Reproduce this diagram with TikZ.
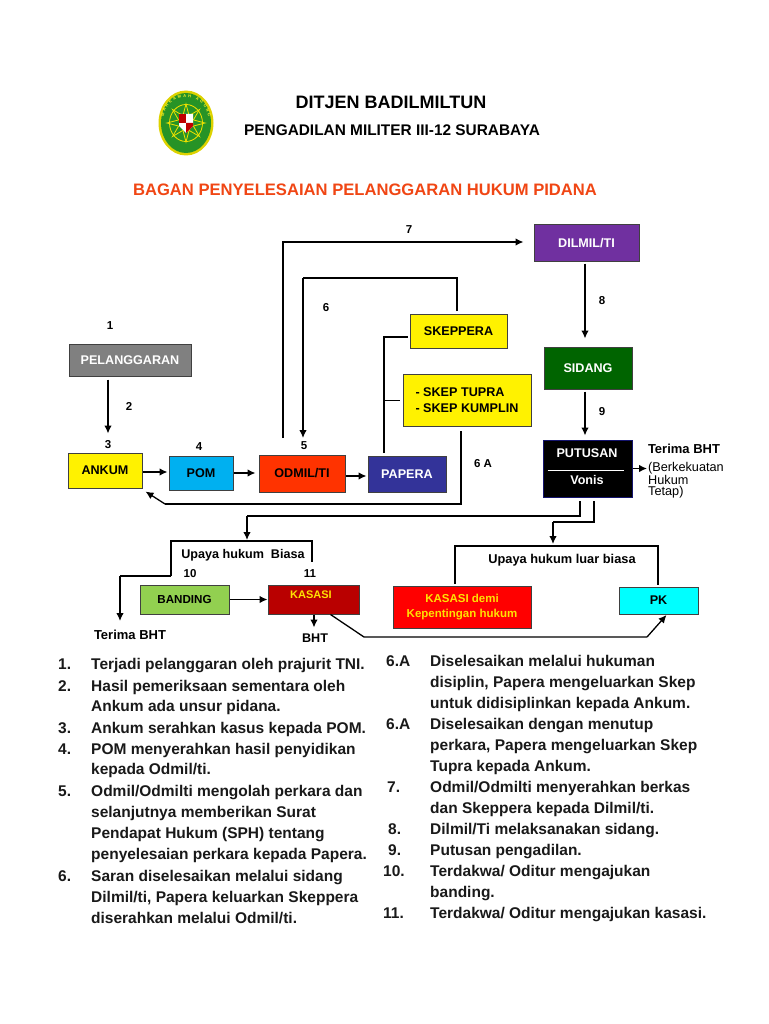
\documentclass[tikz,border=0pt]{standalone}
\usepackage{fontspec}
\setmainfont{Liberation Sans}
\usetikzlibrary{arrows.meta,decorations.text}
\tikzset{
  box/.style={draw=black!75, line width=1pt, font=\fontsize{12.6}{15}\selectfont\bfseries, align=center, inner sep=0pt},
  lbl/.style={font=\fontsize{11.5}{13}\selectfont\bfseries, inner sep=0pt},
  wire/.style={line width=1.3pt},
  arr/.style={line width=1.3pt, -{Latex[length=8pt,width=7.5pt]}},
  body/.style={font=\fontsize{15.5}{18}\selectfont\bfseries, anchor=base west, inner sep=0pt, text=black!90}
}
\begin{document}
\begin{tikzpicture}[x=1pt, y=-1pt]
  \useasboundingbox (0,0) rectangle (768,1024);
  % emblem
  \fill[yellow!70!olive] (186,123) ellipse (27.5 and 32.5);
  \fill[green!50!black!85] (186,123) ellipse (25 and 30);
  \draw[yellow!80!olive, line width=0.9pt] (186,123) ellipse (16.5 and 18.5);
  \fill[green!50!black!85] (186,123) ellipse (15.5 and 17.5);
  \foreach \a in {0,45,...,315}
    \draw[yellow!85!olive, line width=0.8pt] ({186+8*cos(\a+22.5)},{123+8*sin(\a+22.5)}) -- ({186+19*cos(\a)},{123+19*sin(\a)}) -- ({186+8*cos(\a-22.5)},{123+8*sin(\a-22.5)});
  \fill[white] (179,114) -- (193,114) -- (193,126) -- (186,133) -- (179,126) -- cycle;
  \fill[red!75!black] (179,114) -- (186,114) -- (186,123) -- (179,123) -- cycle;
  \fill[red!75!black] (186,123) -- (193,123) -- (193,126) -- (186,133) -- cycle;
  \path[postaction={decorate, decoration={text along path, text align=fit to path, text={|\fontsize{4}{5}\selectfont\bfseries\color{yellow!85}|MAHKAMAH AGUNG}}}]
    (164,117) .. controls (167,91) and (205,91) .. (208,117);
  % titles
  \node (dirjen) [font=\fontsize{18}{21}\selectfont\bfseries, inner sep=0pt] at (391,102) {DITJEN BADILMILTUN};
  \node (pengadilan) [font=\fontsize{15.4}{18}\selectfont\bfseries, inner sep=0pt] at (392,130) {PENGADILAN MILITER III-12 SURABAYA};
  \node (bagan) [font=\fontsize{16.6}{20}\selectfont\bfseries, text={rgb,255:red,240;green,70;blue,20}, inner sep=0pt] at (365,190) {BAGAN PENYELESAIAN PELANGGARAN HUKUM PIDANA};
  % boxes
  \node (pelanggaran) [box, fill=black!50, text=white, minimum width=122pt, minimum height=32pt] at (130,360) {PELANGGARAN};
  \node (ankum) [box, fill=yellow, minimum width=74pt, minimum height=35pt] at (105,470.5) {ANKUM};
  \node (pom) [box, fill={rgb,255:red,0;green,176;blue,240}, minimum width=64pt, minimum height=34pt] at (201,473) {POM};
  \node (odmil) [box, fill={rgb,255:red,255;green,51;blue,0}, minimum width=86pt, minimum height=37pt] at (302,473.5) {ODMIL/TI};
  \node (papera) [box, fill={rgb,255:red,51;green,51;blue,153}, text=white, minimum width=78pt, minimum height=36pt] at (407,474) {PAPERA};
  \node (dilmil) [box, fill={rgb,255:red,112;green,48;blue,160}, text=white, minimum width=105pt, minimum height=36pt] at (586.5,243) {DILMIL/TI};
  \node (skeppera) [box, fill=yellow, minimum width=97pt, minimum height=34pt] at (458.5,331) {SKEPPERA};
  \node (skep) [box, fill=yellow, minimum width=128pt, minimum height=52pt, align=left, font=\fontsize{12.6}{16}\selectfont\bfseries] at (467,400) {- SKEP TUPRA\\- SKEP KUMPLIN};
  \node (sidang) [box, fill={rgb,255:red,0;green,100;blue,0}, text=white, minimum width=88pt, minimum height=42pt] at (588,368) {SIDANG};
  \node (putusan) [box, draw={rgb,255:red,20;green,20;blue,110}, fill=black, minimum width=89pt, minimum height=57pt] at (587.5,468.5) {};
  \node (putusantop) [lbl, font=\fontsize{12.6}{15}\selectfont\bfseries, text=white] at (587,453) {PUTUSAN};
  \node (vonis) [lbl, font=\fontsize{12.6}{15}\selectfont\bfseries, text=white] at (587,480) {Vonis};
  \draw[white, line width=0.8pt] ([xshift=5pt,yshift=-1.5pt]putusan.west) -- ([xshift=-9pt,yshift=-1.5pt]putusan.east);
  \node (banding) [box, fill={rgb,255:red,146;green,208;blue,80}, minimum width=89pt, minimum height=29pt, font=\fontsize{11.6}{14}\selectfont\bfseries] at (184.5,599.5) {BANDING};
  \node (kasasi) [box, fill={rgb,255:red,185;green,0;blue,0}, minimum width=91pt, minimum height=29pt] at (313.5,599.5) {};
  \node (kasasitext) [lbl, font=\fontsize{11}{13}\selectfont\bfseries, text=yellow!85!orange] at (311,595) {KASASI};
  \node (kasasidemi) [box, fill=red, text=yellow!85!orange, minimum width=138pt, minimum height=42pt, font=\fontsize{11.5}{15}\selectfont\bfseries] at (462,607) {KASASI demi\\Kepentingan hukum};
  \node (pk) [box, fill={rgb,255:red,0;green,255;blue,255}, minimum width=79pt, minimum height=27pt] at (658.5,600.5) {PK};
  % free ends
  \coordinate (t7) at (283,438);
  \coordinate (t6) at (457,311);
  \coordinate (h6) at (457,278);
  \coordinate (e6) at (303,438);
  \coordinate (t6a) at (461,431);
  \coordinate (h6a) at (461,504);
  \coordinate (k6a) at (165,504);
  \coordinate (p1) at (580,501);
  \coordinate (p2) at (594,501);
  \coordinate (e1) at (247,540);
  \coordinate (e2) at (553,544);
  \coordinate (b1) at (171,576);
  \coordinate (b2) at (171,541);
  \coordinate (b3) at (312,541);
  \coordinate (b4) at (312,562);
  \coordinate (bht1) at (120,621);
  \coordinate (l1) at (455,584);
  \coordinate (l2) at (455,546);
  \coordinate (l3) at (658,546);
  \coordinate (l4) at (658,585);
  \coordinate (j) at (384,400);
  % connectors
  \draw[arr] ([xshift=-22pt,yshift=-3pt]pelanggaran.south) -- ([xshift=3pt,yshift=19pt]ankum.north);
  \draw[arr] (ankum.east |- 0,472) -- ([xshift=-1pt]pom.west |- 0,472);
  \draw[arr] (pom.east) -- ([xshift=-3pt]odmil.west |- pom.east);
  \draw[arr] (odmil.east |- 0,476) -- ([xshift=-1pt]papera.west |- 0,476);
  \draw[arr] (t7) |- ([xshift=-10pt,yshift=1pt]dilmil.west);
  \draw[wire] (t6) -- (h6) -- (303,278);
  \draw[arr] (303,278) -- (e6);
  \draw[wire] ([xshift=-2pt]skeppera.west |- 0,337) -| (384,453);
  \draw[line width=0.7pt] (j) -- ([xshift=-3pt]skep.west);
  \draw[wire] (t6a) -- (h6a) -- (k6a);
  \draw[arr] (k6a) -- ([xshift=3pt,yshift=-3pt]ankum.south east);
  \draw[arr] ([xshift=-1.5pt,yshift=-2pt]dilmil.south) -- ([xshift=-3pt,yshift=8pt]sidang.north);
  \draw[arr] ([xshift=-3pt,yshift=-2pt]sidang.south) -- ([xshift=-2.5pt,yshift=4pt]putusan.north);
  \draw[arr] (putusan.east) -- (647,468.5);
  \draw[wire] (p1) -- (580,516) -- (247,516);
  \draw[arr] (247,516) -- (e1);
  \draw[wire] (p2) -- (594,522) -- (553,522);
  \draw[arr] (553,522) -- (e2);
  \draw[wire] (b1) -- (b2) -- (b3) -- (b4);
  \draw[wire] (b1) -- (120,576);
  \draw[arr] (120,576) -- (bht1);
  \draw[wire] (l1) -- (l2) -- (l3) -- (l4);
  \draw[arr] (banding.east) -- (kasasi.west);
  \draw[arr] ([xshift=0.5pt]kasasi.south) -- ([xshift=0.5pt,yshift=-13pt]kasasi.south);
  \draw[wire] ([xshift=17pt]kasasi.south) -- (364,637) -- (647,637);
  \draw[arr] (647,637) -- ([xshift=8pt,yshift=-0.5pt]pk.south);
  % number labels
  \foreach \x/\y/\t in {110/326/1, 129/406/2, 108/445/3, 199/447/4, 304/446/5, 326/308/6, 409/230/7, 602/301/8, 602/412/9, 483/464/6 A, 190/574/10, 310/574/11}
    \node[lbl] at (\x,\y) {\t};
  \node (terimaa) [lbl, font=\fontsize{13}{15}\selectfont\bfseries] at (684,449) {Terima BHT};
  \node (berkekuatan) [font=\fontsize{12.7}{11.5}\selectfont, align=left, anchor=north west, inner sep=0pt] at (648,462) {(Berkekuatan\\Hukum\\Tetap)};
  \node (terimab) [lbl, font=\fontsize{13}{15}\selectfont\bfseries] at (130,635) {Terima BHT};
  \node (bht) [lbl, font=\fontsize{12.6}{15}\selectfont\bfseries] at (315,638) {BHT};
  \node (biasa) [lbl, font=\fontsize{12.6}{15}\selectfont\bfseries] at (243,555) {Upaya hukum\ \ Biasa};
  \node (luarbiasa) [lbl, font=\fontsize{12.8}{15}\selectfont\bfseries] at (562,560) {Upaya hukum luar biasa};
  % left column
  \foreach \x/\y/\t in {58/669/1., 91/669/{Terjadi pelanggaran oleh prajurit TNI.}, 58/691/2., 91/691/{Hasil pemeriksaan sementara oleh}, 91/711/{Ankum ada unsur pidana.}, 58/733/3., 91/733/{Ankum serahkan kasus kepada POM.}, 58/754/4., 91/754/{POM menyerahkan hasil penyidikan}, 91/774/{kepada Odmil/ti.}, 58/796/5., 91/796/{Odmil/Odmilti mengolah perkara dan}, 91/817/{selanjutnya memberikan Surat}, 91/838/{Pendapat Hukum (SPH) tentang}, 91/859/{penyelesaian perkara kepada Papera.}, 58/881/6., 91/881/{Saran diselesaikan melalui sidang}, 91/902/{Dilmil/ti, Papera keluarkan Skeppera}, 91/923/{diserahkan melalui Odmil/ti.}}
    \node[body] at (\x,\y) {\t};
  % right column
  \foreach \x/\y/\t in {386/666/6.A, 430/666/{Diselesaikan melalui hukuman}, 430/687/{disiplin, Papera mengeluarkan Skep}, 430/708/{untuk didisiplinkan kepada Ankum.}, 386/729/6.A, 430/729/{Diselesaikan dengan menutup}, 430/750/{perkara, Papera mengeluarkan Skep}, 430/771/{Tupra kepada Ankum.}, 387/792/7., 430/792/{Odmil/Odmilti menyerahkan berkas}, 430/813/{dan Skeppera kepada Dilmil/ti.}, 388/834/8., 430/834/{Dilmil/Ti melaksanakan sidang.}, 388/855/9., 430/855/{Putusan pengadilan.}, 383/876/10., 430/876/{Terdakwa/ Oditur mengajukan}, 430/897/{banding.}, 383/918/11., 430/918/{Terdakwa/ Oditur mengajukan kasasi.}}
    \node[body] at (\x,\y) {\t};
\end{tikzpicture}
\end{document}
